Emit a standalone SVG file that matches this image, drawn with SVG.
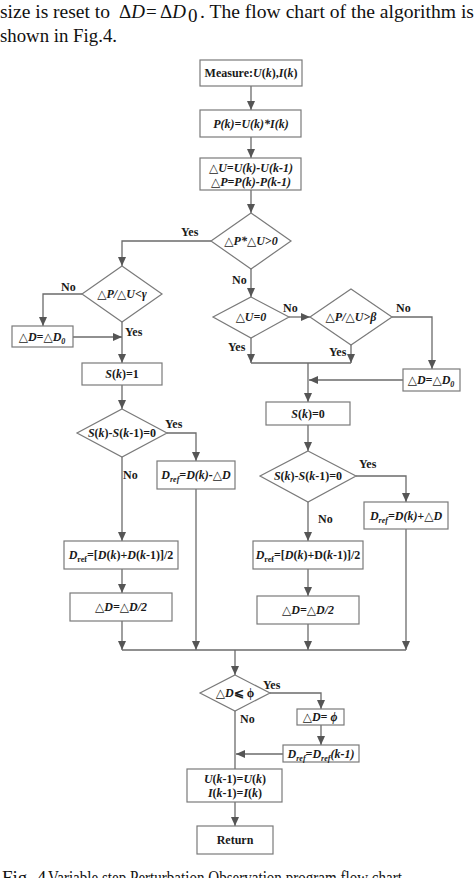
<svg xmlns="http://www.w3.org/2000/svg" width="474" height="878" viewBox="0 0 474 878">
<style>
.box{fill:#fff;stroke:#7a7a7a;stroke-width:1.2}
.ln{fill:none;stroke:#6b6b6b;stroke-width:1.3}
.t{font-family:"Liberation Serif","DejaVu Serif",serif;font-weight:bold;font-size:12px;fill:#1a1a1a;text-anchor:middle}
.lab{font-family:"Liberation Serif","DejaVu Serif",serif;font-weight:bold;font-size:12px;fill:#1a1a1a}
.i{font-style:italic}
.sub{font-size:8px}
.body{font-family:"Liberation Serif","DejaVu Serif",serif;font-size:19px;fill:#111}
</style>
<defs>
<marker id="ah" markerUnits="userSpaceOnUse" markerWidth="9" markerHeight="8" refX="9" refY="4" orient="auto">
<path d="M0,0 L9,4 L0,8 z" fill="#555"/>
</marker>
</defs>
<rect width="474" height="878" fill="#fff"/>

<g id="bodytext">
<text class="body" x="0" y="18" textLength="110" lengthAdjust="spacingAndGlyphs">size is reset to</text>
<text class="body" x="119" y="18">Δ<tspan class="i">D</tspan></text>
<text class="body" x="146" y="18">=</text>
<text class="body" x="160" y="18">Δ<tspan class="i">D</tspan></text>
<text class="body" x="188" y="22" font-size="11">0</text>
<text class="body" x="200" y="18" textLength="274" lengthAdjust="spacingAndGlyphs">. The flow chart of the algorithm is</text>
<text class="body" x="0" y="42" textLength="117" lengthAdjust="spacingAndGlyphs">shown in Fig.4.</text>
<text class="body" x="2" y="884" font-size="17">Fig. 4</text>
<text class="body" x="48" y="884" font-size="17" textLength="354" lengthAdjust="spacingAndGlyphs">Variable step Perturbation Observation program flow chart</text>
</g>

<g id="connectors">
<path class="ln" d="M251,86 V110" marker-end="url(#ah)"/>
<path class="ln" d="M251,137 V158" marker-end="url(#ah)"/>
<path class="ln" d="M251,190 V213" marker-end="url(#ah)"/>
<path class="ln" d="M211,241 H122 V266" marker-end="url(#ah)"/>
<path class="ln" d="M82,294 H43 V326" marker-end="url(#ah)"/>
<path class="ln" d="M73,337 H122" marker-end="url(#ah)"/>
<path class="ln" d="M122,322 V363" marker-end="url(#ah)"/>
<path class="ln" d="M122,385 V409" marker-end="url(#ah)"/>
<path class="ln" d="M167,433 H196 V461" marker-end="url(#ah)"/>
<path class="ln" d="M196,489 V650" marker-end="url(#ah)"/>
<path class="ln" d="M122,457 V541" marker-end="url(#ah)"/>
<path class="ln" d="M122,569 V593" marker-end="url(#ah)"/>
<path class="ln" d="M122,621 V650" marker-end="url(#ah)"/>
<path class="ln" d="M251,269 V297" marker-end="url(#ah)"/>
<path class="ln" d="M289,317 H310" marker-end="url(#ah)"/>
<path class="ln" d="M392,317 H432 V369" marker-end="url(#ah)"/>
<path class="ln" d="M403,380 H309" marker-end="url(#ah)"/>
<path class="ln" d="M251,338 V363" marker-end="url(#ah)"/>
<path class="ln" d="M351,345 V363" marker-end="url(#ah)"/>
<path class="ln" d="M251,363 H351"/>
<path class="ln" d="M308,363 V402" marker-end="url(#ah)"/>
<path class="ln" d="M308,425 V451" marker-end="url(#ah)"/>
<path class="ln" d="M356,476 H406 V502" marker-end="url(#ah)"/>
<path class="ln" d="M406,529 V650" marker-end="url(#ah)"/>
<path class="ln" d="M308,502 V541" marker-end="url(#ah)"/>
<path class="ln" d="M308,569 V596" marker-end="url(#ah)"/>
<path class="ln" d="M308,624 V650" marker-end="url(#ah)"/>
<path class="ln" d="M122,650 H406"/>
<path class="ln" d="M235,650 V675" marker-end="url(#ah)"/>
<path class="ln" d="M270,693 H321 V709" marker-end="url(#ah)"/>
<path class="ln" d="M321,725 V745" marker-end="url(#ah)"/>
<path class="ln" d="M283,754 H236" marker-end="url(#ah)"/>
<path class="ln" d="M235,711 V769"/>
<path class="ln" d="M235,802 V826" marker-end="url(#ah)"/>
</g>

<g id="labels">
<text class="lab" x="181" y="236">Yes</text>
<text class="lab" x="61" y="291">No</text>
<text class="lab" x="232" y="284">No</text>
<text class="lab" x="283" y="312">No</text>
<text class="lab" x="396" y="312">No</text>
<text class="lab" x="125" y="336">Yes</text>
<text class="lab" x="228" y="351">Yes</text>
<text class="lab" x="329" y="356">Yes</text>
<text class="lab" x="165" y="428">Yes</text>
<text class="lab" x="123" y="479">No</text>
<text class="lab" x="359" y="468">Yes</text>
<text class="lab" x="318" y="523">No</text>
<text class="lab" x="263" y="689">Yes</text>
<text class="lab" x="240" y="723">No</text>
</g>

<g id="n-measure">
<rect class="box" x="200" y="60" width="102" height="26"/>
<text class="t" x="251" y="77">Measure:<tspan class="i">U</tspan>(<tspan class="i">k</tspan>),<tspan class="i">I</tspan>(<tspan class="i">k</tspan>)</text>
</g>
<g id="n-power">
<rect class="box" x="200" y="110" width="101" height="27"/>
<text class="t i" x="251" y="128">P(k)=U(k)*I(k)</text>
</g>
<g id="n-delta">
<rect class="box" x="200" y="158" width="101" height="32"/>
<text class="t i" x="251" y="172">△U=U(k)-U(k-1)</text>
<text class="t i" x="251" y="186">△P=P(k)-P(k-1)</text>
</g>
<g id="d-sign">
<polygon class="box" points="251,213 291,241 251,269 211,241"/>
<text class="t i" x="251" y="245">△P*△U&gt;0</text>
</g>
<g id="d-gamma">
<polygon class="box" points="122,266 162,294 122,322 82,294"/>
<text class="t i" x="122" y="298">△P/△U&lt;γ</text>
</g>
<g id="n-reset-left">
<rect class="box" x="12" y="326" width="61" height="21"/>
<text class="t i" x="42" y="341">△D=△D<tspan class="sub" dy="3">0</tspan></text>
</g>
<g id="n-s1">
<rect class="box" x="82" y="363" width="80" height="22"/>
<text class="t" x="122" y="378"><tspan class="i">S</tspan>(<tspan class="i">k</tspan>)=1</text>
</g>
<g id="d-s-left">
<polygon class="box" points="122,409 167,433 122,457 77,433"/>
<text class="t" x="122" y="437"><tspan class="i">S</tspan>(<tspan class="i">k</tspan>)-<tspan class="i">S</tspan>(<tspan class="i">k</tspan>-1)=0</text>
</g>
<g id="n-dref-minus">
<rect class="box" x="157" y="461" width="78" height="28"/>
<text class="t i" x="196" y="479">D<tspan class="sub" dy="3">ref</tspan><tspan dy="-3">=D(k)-△D</tspan></text>
</g>
<g id="n-avg-left">
<rect class="box" x="64" y="541" width="114" height="28"/>
<text class="t" x="121" y="559"><tspan class="i">D</tspan><tspan class="sub" dy="3">ref</tspan><tspan dy="-3">=[</tspan><tspan class="i">D</tspan>(<tspan class="i">k</tspan>)+<tspan class="i">D</tspan>(<tspan class="i">k</tspan>-1)]/2</text>
</g>
<g id="n-half-left">
<rect class="box" x="70" y="593" width="102" height="28"/>
<text class="t i" x="121" y="611">△D=△D/2</text>
</g>
<g id="d-zero">
<polygon class="box" points="251,297 289,317 251,338 213,317"/>
<text class="t i" x="251" y="321">△U=0</text>
</g>
<g id="d-beta">
<polygon class="box" points="351,289 392,317 351,345 310,317"/>
<text class="t i" x="351" y="321">△P/△U&gt;β</text>
</g>
<g id="n-reset-right">
<rect class="box" x="403" y="369" width="57" height="22"/>
<text class="t i" x="431" y="384">△D=△D<tspan class="sub" dy="3">0</tspan></text>
</g>
<g id="n-s0">
<rect class="box" x="266" y="402" width="84" height="23"/>
<text class="t" x="308" y="418"><tspan class="i">S</tspan>(<tspan class="i">k</tspan>)=0</text>
</g>
<g id="d-s-right">
<polygon class="box" points="308,451 356,476 308,502 260,476"/>
<text class="t" x="308" y="480"><tspan class="i">S</tspan>(<tspan class="i">k</tspan>)-<tspan class="i">S</tspan>(<tspan class="i">k</tspan>-1)=0</text>
</g>
<g id="n-dref-plus">
<rect class="box" x="364" y="502" width="84" height="27"/>
<text class="t i" x="406" y="520">D<tspan class="sub" dy="3">ref</tspan><tspan dy="-3">=D(k)+△D</tspan></text>
</g>
<g id="n-avg-right">
<rect class="box" x="253" y="541" width="110" height="28"/>
<text class="t" x="308" y="559"><tspan class="i">D</tspan><tspan class="sub" dy="3">ref</tspan><tspan dy="-3">=[</tspan><tspan class="i">D</tspan>(<tspan class="i">k</tspan>)+D(<tspan class="i">k</tspan>-1)]/2</text>
</g>
<g id="n-half-right">
<rect class="box" x="257" y="596" width="102" height="28"/>
<text class="t i" x="308" y="614">△D=△D/2</text>
</g>
<g id="d-phi">
<polygon class="box" points="235,675 270,693 235,711 200,693"/>
<text class="t" x="235" y="697"><tspan class="i">△D</tspan>⩽ ϕ</text>
</g>
<g id="n-phi">
<rect class="box" x="297" y="709" width="47" height="16"/>
<text class="t" x="320" y="721" font-family="Liberation Sans, Arial, sans-serif" font-style="italic">△D= ϕ</text>
</g>
<g id="n-dref-prev">
<rect class="box" x="283" y="745" width="76" height="17"/>
<text class="t i" x="321" y="758">D<tspan class="sub" dy="3">ref</tspan><tspan dy="-3">=D</tspan><tspan class="sub" dy="3">ref</tspan><tspan dy="-3">(k-1)</tspan></text>
</g>
<g id="n-update">
<rect class="box" x="187" y="769" width="95" height="33"/>
<text class="t" x="235" y="783"><tspan class="i">U</tspan>(<tspan class="i">k</tspan>-1)=<tspan class="i">U</tspan>(<tspan class="i">k</tspan>)</text>
<text class="t" x="235" y="797"><tspan class="i">I</tspan>(<tspan class="i">k</tspan>-1)=<tspan class="i">I</tspan>(<tspan class="i">k</tspan>)</text>
</g>
<g id="n-return">
<rect class="box" x="197" y="826" width="76" height="28"/>
<text class="t" x="235" y="844">Return</text>
</g>
</svg>
